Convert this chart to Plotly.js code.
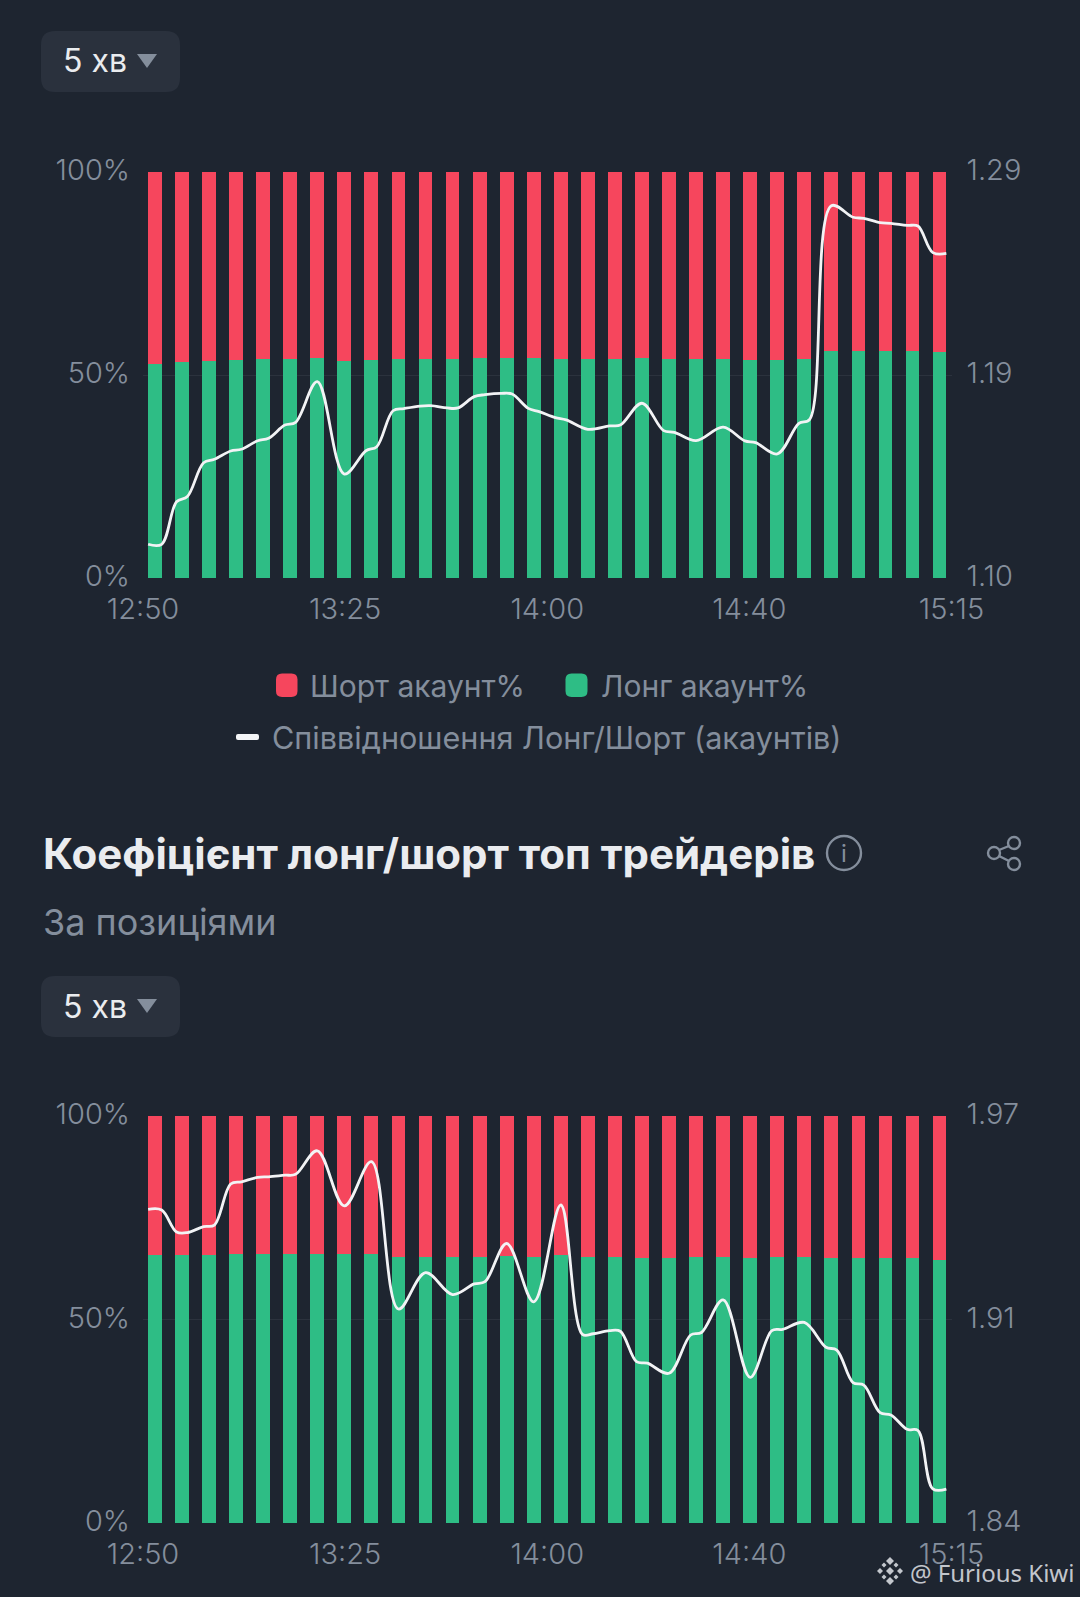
<!DOCTYPE html>
<html><head><meta charset="utf-8">
<script src="https://cdn.plot.ly/plotly-3.0.1.min.js"></script>
<style>html,body{margin:0;padding:0;background:#1e2530;overflow:hidden}</style></head>
<body><div id="chart" style="width:1080px;height:1597px"></div>
<script>
// ----- data -----
const slots = [0,1,2,3,4,5,6,7,8,9,10,11,12,13,14,15,16,17,18,19,20,21,22,23,24,25,26,27,28,29];
const timeLabels = ['12:50','13:25','14:00','14:40','15:15'];
const timeTicks = [-0.44,7.03,14.5,21.97,29.44];
const pctLabels = ['0%','50%','100%'];
const pctTicks = [0,50,100];

const topLong = [52.7,53.1,53.5,53.7,53.9,53.9,54.3,53.5,53.7,54.0,54.0,54.0,54.1,54.1,54.1,53.9,53.9,53.9,54.1,53.9,53.9,53.9,53.8,53.6,54.0,55.9,55.8,55.8,55.8,55.6];
const topShort = [47.3,46.9,46.5,46.3,46.1,46.1,45.7,46.5,46.3,46.0,46.0,46.0,45.9,45.9,45.9,46.1,46.1,46.1,45.9,46.1,46.1,46.1,46.2,46.4,46.0,44.1,44.2,44.2,44.2,44.4];
// ratio read at each bar's left and right side; null on the right = single peak or trough reading
const topRatioA = [1.1159,1.1358,1.1540,1.1595,1.1643,1.1716,1.1919,1.1487,1.1596,1.1783,1.1805,1.1796,1.1849,1.1864,1.1794,1.1751,1.1696,1.1712,1.1818,1.1690,1.1643,1.1706,1.1642,1.1581,1.1724,1.2741,1.2687,1.2662,1.2649,1.2522];
const topRatioB = [1.1159,1.1382,1.1556,1.1603,1.1654,1.1729,null,null,1.1615,1.1793,1.1807,1.1796,1.1858,1.1861,1.1779,1.1740,null,1.1716,null,1.1682,null,null,1.1634,null,1.1743,null,1.2682,1.2659,1.2646,1.2518];
const topRatioTicks = [1.10,1.195,1.29];
const topRatioLabels = ['1.10','1.19','1.29'];
const topRatioRange = [1.10,1.29];

const botLong = [65.8,65.8,65.8,66.0,66.0,66.0,66.1,66.0,66.1,65.5,65.5,65.5,65.5,65.7,65.5,65.8,65.5,65.5,65.2,65.2,65.3,65.5,65.1,65.3,65.4,65.2,65.1,65.1,65.1,64.7];
const botShort = [34.2,34.2,34.2,34.0,34.0,34.0,33.9,34.0,33.9,34.5,34.5,34.5,34.5,34.3,34.5,34.2,34.5,34.5,34.8,34.8,34.7,34.5,34.9,34.7,34.6,34.8,34.9,34.9,34.9,35.3];
const botRatioA = [1.9402,1.9330,1.9347,1.9483,1.9504,1.9511,1.9589,1.9413,1.9554,1.9084,1.9200,1.9130,1.9164,1.9293,1.9107,1.9416,1.9003,1.9015,1.8916,1.8879,1.9001,1.9113,1.8866,1.9015,1.9041,1.8962,1.8849,1.8753,1.8700,1.8510];
const botRatioB = [1.9400,1.9328,1.9352,1.9490,1.9506,1.9514,null,null,null,null,null,null,1.9171,null,null,null,1.9005,1.9013,1.8911,null,1.9009,null,null,1.9019,null,1.8953,1.8841,1.8746,1.8696,1.8509];
const botRatioTicks = [1.84,1.905,1.97];
const botRatioLabels = ['1.84','1.91','1.97'];
const botRatioRange = [1.84,1.97];

const shortName = 'Шорт акаунт%';
const longName = 'Лонг акаунт%';
const ratioName = 'Співвідношення Лонг/Шорт (акаунтів)';
const sectionTitle = 'Коефіцієнт лонг/шорт топ трейдерів';
const sectionSub = 'За позиціями';
const intervalLabel = '5 хв';
const watermark = '@ Furious Kiwi';

// ----- page geometry & style -----
const W = 1080, H = 1597;
const BG = '#1e2530', GRID = '#2b323d', MUTED = '#848e9c', RED = '#f6465d', GREEN = '#2ebd85', LINE = '#f2f3f5';
const FONT = 'Inter, "Noto Sans", sans-serif';
const px = x => x / W, py = y => 1 - y / H;
function linePts(a, b) {
  const x = [], y = [];
  slots.forEach(i => {
    if (b[i] === null) { x.push(i); y.push(a[i]); }
    else {
      const d = (i === 0 || i === slots.length - 1) ? 0.25 : 0.2;
      x.push(i - d, i + d); y.push(a[i], b[i]);
    }
  });
  return { x, y };
}

function rr(x, y, w, h, r, color) {
  const X = v => px(v).toFixed(5), Y = v => py(v).toFixed(5);
  return { type:'path', xref:'paper', yref:'paper', layer:'below', fillcolor:color, line:{width:0},
    path:`M${X(x+r)},${Y(y)} L${X(x+w-r)},${Y(y)} Q${X(x+w)},${Y(y)} ${X(x+w)},${Y(y+r)} L${X(x+w)},${Y(y+h-r)} Q${X(x+w)},${Y(y+h)} ${X(x+w-r)},${Y(y+h)} L${X(x+r)},${Y(y+h)} Q${X(x)},${Y(y+h)} ${X(x)},${Y(y+h-r)} L${X(x)},${Y(y+r)} Q${X(x)},${Y(y)} ${X(x+r)},${Y(y)} Z` };
}
function poly(pts, color, fill) {
  const d = pts.map((p,i)=>(i?'L':'M')+px(p[0]).toFixed(5)+','+py(p[1]).toFixed(5)).join(' ')+(fill?' Z':'');
  return { type:'path', xref:'paper', yref:'paper', path:d, fillcolor:fill?color:'rgba(0,0,0,0)', line:{color:color,width:fill?0:2.4} };
}
function circ(cx, cy, r, color, w) {
  return { type:'circle', xref:'paper', yref:'paper', x0:px(cx-r), x1:px(cx+r), y0:py(cy+r), y1:py(cy-r), line:{color:color,width:w}, fillcolor:'rgba(0,0,0,0)' };
}
function diamond(cx, cy, r, color) { return poly([[cx-r,cy],[cx,cy-r],[cx+r,cy],[cx,cy+r]], color, true); }
function txt(text, x, y, size, color, anchor, extra) {
  return Object.assign({ text, x:px(x), y:py(y), xref:'paper', yref:'paper', showarrow:false, xanchor:anchor||'left', yanchor:'middle',
    font:{family:FONT, size, color}, borderpad:0 }, extra||{});
}
const tickFont = {family:FONT,size:29,color:MUTED,weight:300};
function panelAxes(xn, y1n, y2n, top, bottom, ratioTicks, ratioLabels, ratioRange) {
  const o = {};
  o['xaxis'+xn] = { domain:[px(143),px(951.5)], range:[timeTicks[0],timeTicks[4]], tickmode:'array', tickvals:timeTicks, ticktext:timeLabels,
    anchor:'y'+y1n, showgrid:false, zeroline:false, showline:false, ticks:'', ticklabelstandoff:11, tickfont:tickFont };
  o['yaxis'+y1n] = { domain:[py(bottom),py(top)], range:[0,100], tickmode:'array', tickvals:pctTicks, ticktext:pctLabels, anchor:'x'+xn,
    gridcolor:GRID, gridwidth:1, zeroline:false, showline:false, ticks:'', ticklabelstandoff:12, ticklabelshift:-2, tickfont:tickFont };
  o['yaxis'+y2n] = { range:ratioRange, tickmode:'array', tickvals:ratioTicks, ticktext:ratioLabels, overlaying:'y'+y1n, side:'right', anchor:'x'+xn,
    showgrid:false, zeroline:false, showline:false, ticks:'', ticklabelstandoff:14, ticklabelshift:-2, tickfont:tickFont };
  return o;
}
function panelTraces(xn, y1n, y2n, long, short, a, b) {
  const xa = 'x'+xn;
  const lp = linePts(a, b);
  return [
    { type:'bar', name:longName, x:slots, y:long, xaxis:xa, yaxis:'y'+y1n, width:0.51, marker:{color:GREEN,line:{width:0}} },
    { type:'bar', name:shortName, x:slots, y:short, xaxis:xa, yaxis:'y'+y1n, width:0.51, marker:{color:RED,line:{width:0}} },
    { type:'scatter', mode:'lines', name:ratioName, x:lp.x, y:lp.y, xaxis:xa, yaxis:'y'+y2n, line:{color:LINE,width:2.8,shape:'spline',smoothing:1} }
  ];
}

const data = [
  ...panelTraces('', '', '2', topLong, topShort, topRatioA, topRatioB),
  ...panelTraces('2', '3', '4', botLong, botShort, botRatioA, botRatioB)
];

const WM = 'rgba(225,228,233,0.85)';
const shapes = [
  rr(41,31,139,61,14,'#2a313d'), poly([[137,54],[157,54],[147,68]],MUTED,true),
  rr(41,976,139,61,14,'#2a313d'), poly([[137,999],[157,999],[147,1013]],MUTED,true),
  rr(276,673.5,21.5,23.5,6,RED), rr(565.5,673.5,22,23.5,6,GREEN), rr(236,734,23,6,2,'#f4f5f7'),
  circ(844,853,17,MUTED,2.4),
  circ(1014,843,6,MUTED,2.4), circ(994,853,6,MUTED,2.4), circ(1014,864,6,MUTED,2.4),
  poly([[999,850],[1009,846]],MUTED,false), poly([[999,856],[1009,861]],MUTED,false),
  diamond(890,1571,4,WM), diamond(890,1561,4,WM), diamond(890,1581,4,WM),
  diamond(880,1571,3,WM), diamond(900,1571,3,WM), diamond(884,1565,2.5,WM), diamond(896,1565,2.5,WM), diamond(884,1577,2.5,WM), diamond(896,1577,2.5,WM)
];
const annotations = [
  txt(intervalLabel,62,60,32,'#eaecef'), txt(intervalLabel,62,1006,32,'#eaecef'),
  txt(shortName,309,686,30,MUTED), txt(longName,600,686,30,MUTED), txt(ratioName,271,738,30.6,MUTED),
  txt(sectionTitle,42,853,42,'#eaecef','left',{font:{family:FONT,size:42,color:'#eaecef',weight:700}}),
  txt(sectionSub,42,922,36,MUTED),
  txt('i',844,853,24,MUTED,'center'),
  txt(watermark,909,1572,24,WM,'left',{font:{family:'"Noto Sans", sans-serif',size:24,color:WM}})
];

const layout = Object.assign({
  width:W, height:H, autosize:false, margin:{l:0,r:0,t:0,b:0}, paper_bgcolor:BG, plot_bgcolor:BG,
  barmode:'stack', bargap:0, showlegend:false, font:{family:FONT,color:MUTED}, shapes, annotations, hovermode:false
}, panelAxes('', '', '2', 171.7, 578.3, topRatioTicks, topRatioLabels, topRatioRange),
   panelAxes('2', '3', '4', 1116, 1523.3, botRatioTicks, botRatioLabels, botRatioRange));

Plotly.newPlot('chart', data, layout, {displayModeBar:false, staticPlot:true});
</script></body></html>
